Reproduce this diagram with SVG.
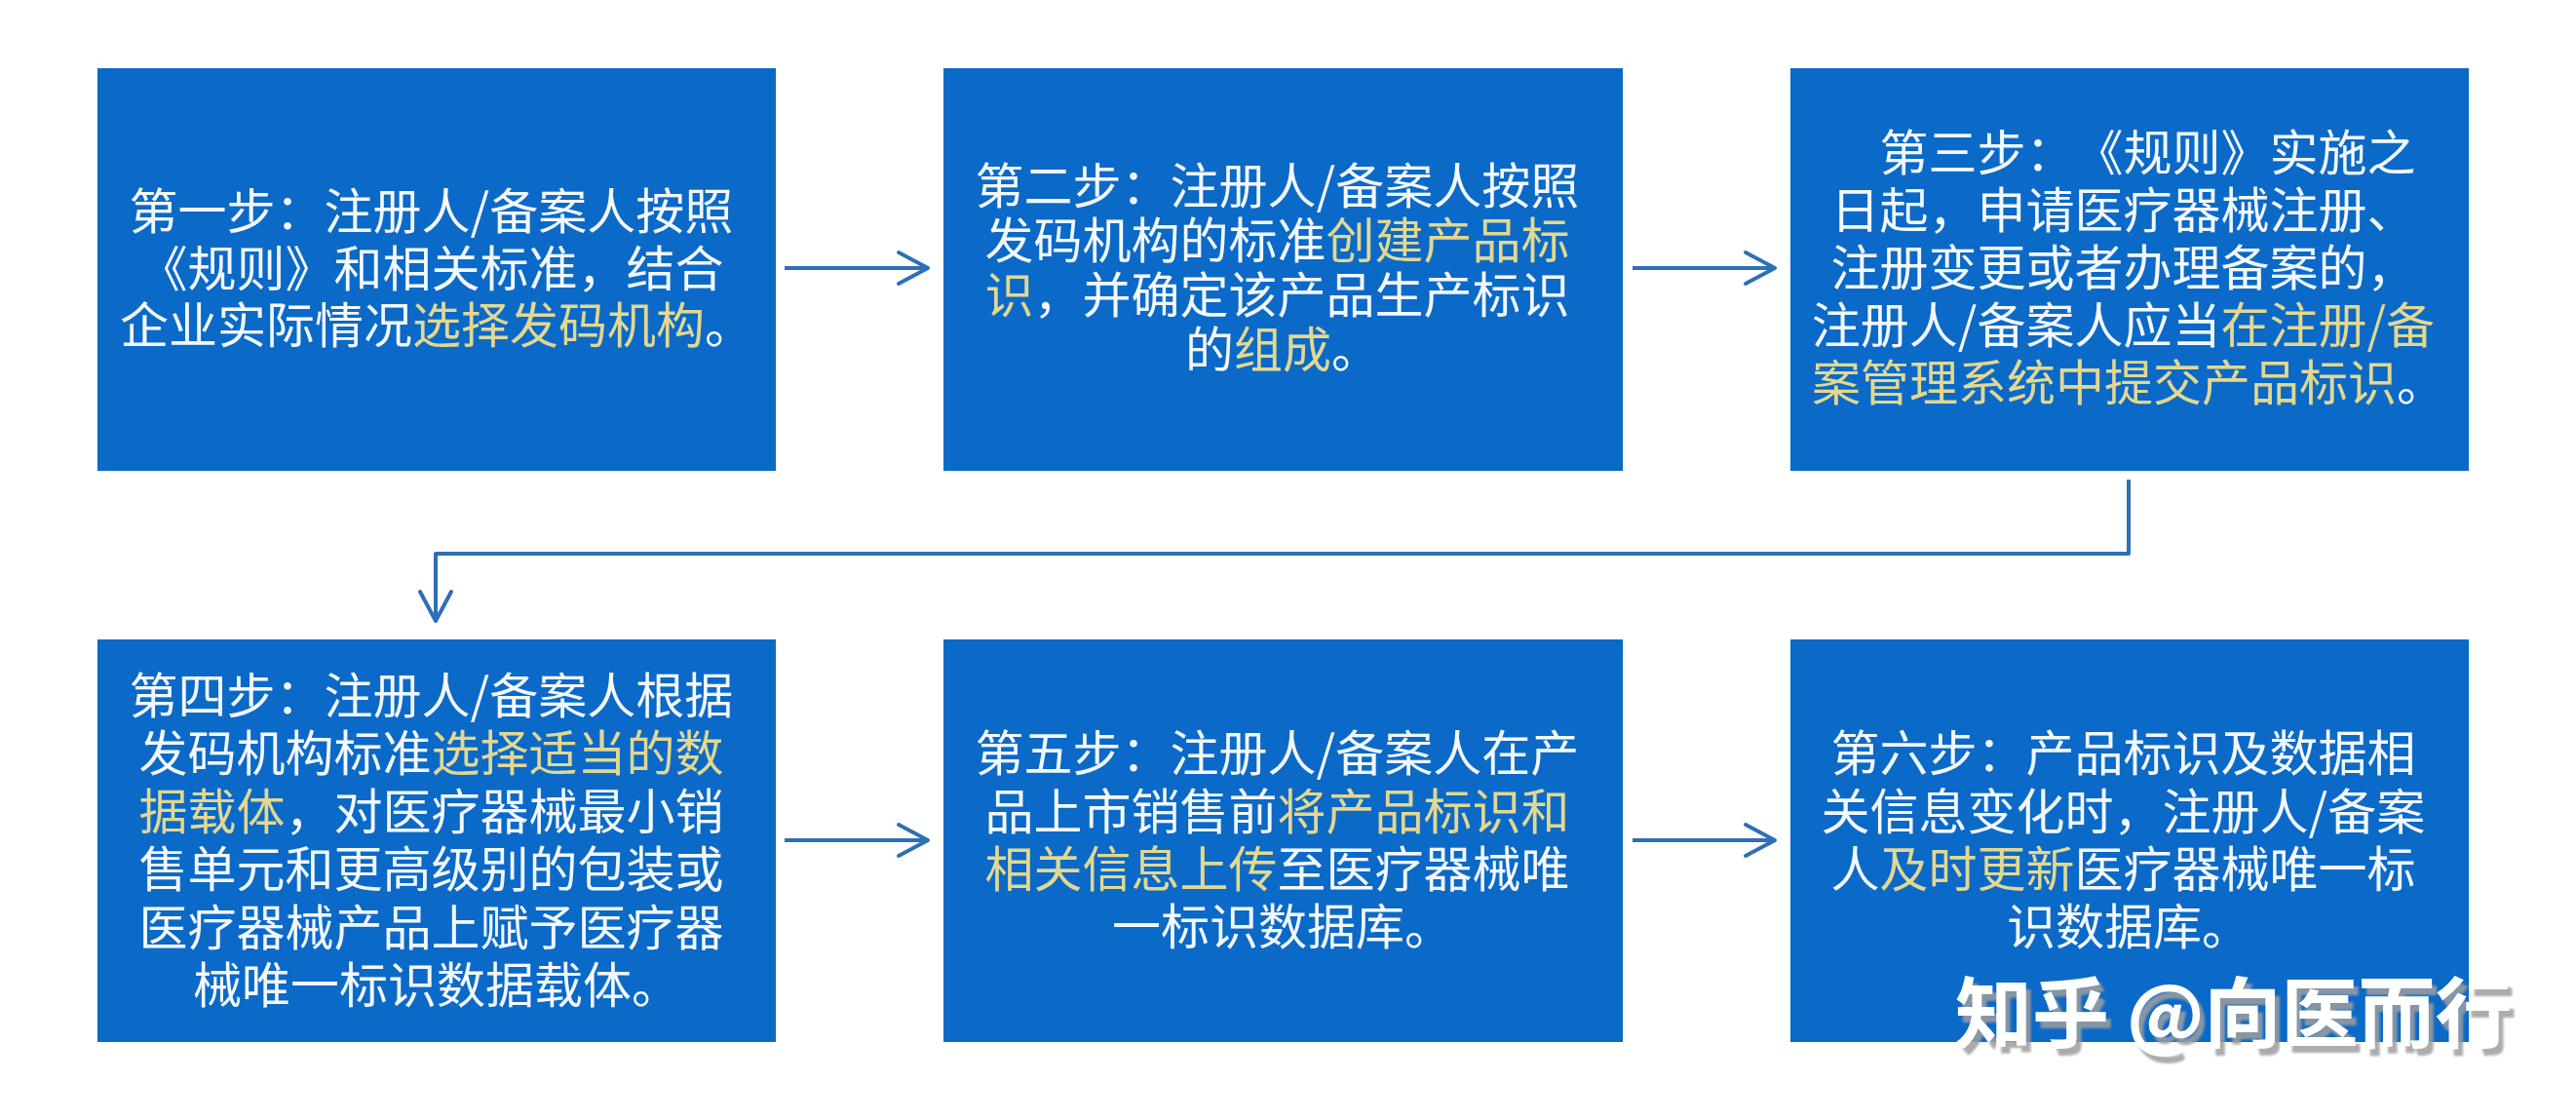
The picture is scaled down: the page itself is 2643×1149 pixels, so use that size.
<svg xmlns="http://www.w3.org/2000/svg" width="2643" height="1149" viewBox="0 0 2643 1149">
  <defs>
    <marker id="chev" markerUnits="userSpaceOnUse" markerWidth="40" markerHeight="40" viewBox="-34 -20 40 40" refX="0" refY="0" orient="auto">
      <path d="M -30 -16 L 0 0 L -30 16" fill="none" stroke="#2e6fb6" stroke-width="4" stroke-linecap="round" stroke-linejoin="round"/>
    </marker>
    <filter id="wmshadow" x="-5%" y="-20%" width="115%" height="150%">
      <feDropShadow dx="5" dy="7" stdDeviation="0.8" flood-color="#9e9e9e" flood-opacity="0.85"/>
    </filter>
  </defs>
  <style>
    .box { fill: #0b69c8; }
    .t { font-family: "Noto Sans CJK SC", "Noto Sans", sans-serif; font-size: 50px; fill: #f3f8ff; text-anchor: middle; text-spacing-trim: space-all; }
    .hl { fill: #e2d88f; }
    .conn { fill: none; stroke: #2e6fb6; stroke-width: 4; stroke-linejoin: round; }
    .wm { font-family: "Noto Sans CJK SC", "Noto Sans", sans-serif; font-size: 79px; font-weight: bold; fill: #ffffff; text-spacing-trim: space-all; }
  </style>
  <rect x="0" y="0" width="2643" height="1149" fill="#ffffff"/>

  <g id="connectors">
    <path class="conn" d="M 805 275 L 952 275" marker-end="url(#chev)"/>
    <path class="conn" d="M 1675 275 L 1821 275" marker-end="url(#chev)"/>
    <path class="conn" d="M 2184 492 L 2184 568 L 447 568 L 447 637" marker-end="url(#chev)"/>
    <path class="conn" d="M 805 862 L 952 862" marker-end="url(#chev)"/>
    <path class="conn" d="M 1675 862 L 1821 862" marker-end="url(#chev)"/>
  </g>

  <g id="step1">
    <rect class="box" x="100" y="70" width="696" height="413"/>
    <text class="t">
      <tspan x="448" y="235">第一步：注册人/备案人按照</tspan>
      <tspan x="448" y="293.5">《规则》和相关标准，结合</tspan>
      <tspan x="448" y="352">企业实际情况<tspan class="hl">选择发码机构</tspan>。</tspan>
    </text>
  </g>

  <g id="step2">
    <rect class="box" x="968" y="70" width="697" height="413"/>
    <text class="t">
      <tspan x="1316" y="209">第二步：注册人/备案人按照</tspan>
      <tspan x="1316" y="265">发码机构的标准<tspan class="hl">创建产品标</tspan></tspan>
      <tspan x="1316" y="321"><tspan class="hl">识</tspan>，并确定该产品生产标识</tspan>
      <tspan x="1316" y="377">的<tspan class="hl">组成</tspan>。</tspan>
    </text>
  </g>

  <g id="step3">
    <rect class="box" x="1837" y="70" width="696" height="413"/>
    <text class="t">
      <tspan x="2184" y="174.5">　第三步：《规则》实施之</tspan>
      <tspan x="2184" y="233.5">日起，申请医疗器械注册、</tspan>
      <tspan x="2184" y="292.5">注册变更或者办理备案的，</tspan>
      <tspan x="2184" y="351.5">注册人/备案人应当<tspan class="hl">在注册/备</tspan></tspan>
      <tspan x="2184" y="410.5"><tspan class="hl">案管理系统中提交产品标识</tspan>。</tspan>
    </text>
  </g>

  <g id="step4">
    <rect class="box" x="100" y="656" width="696" height="413"/>
    <text class="t">
      <tspan x="448" y="731.5">第四步：注册人/备案人根据</tspan>
      <tspan x="448" y="791">发码机构标准<tspan class="hl">选择适当的数</tspan></tspan>
      <tspan x="448" y="850.5"><tspan class="hl">据载体</tspan>，对医疗器械最小销</tspan>
      <tspan x="448" y="910">售单元和更高级别的包装或</tspan>
      <tspan x="448" y="969.5">医疗器械产品上赋予医疗器</tspan>
      <tspan x="448" y="1029">械唯一标识数据载体。</tspan>
    </text>
  </g>

  <g id="step5">
    <rect class="box" x="968" y="656" width="697" height="413"/>
    <text class="t">
      <tspan x="1316" y="790.5">第五步：注册人/备案人在产</tspan>
      <tspan x="1316" y="850.5">品上市销售前<tspan class="hl">将产品标识和</tspan></tspan>
      <tspan x="1316" y="909.5"><tspan class="hl">相关信息上传</tspan>至医疗器械唯</tspan>
      <tspan x="1316" y="968.5">一标识数据库。</tspan>
    </text>
  </g>

  <g id="step6">
    <rect class="box" x="1837" y="656" width="696" height="413"/>
    <text class="t">
      <tspan x="2184" y="790.5">第六步：产品标识及数据相</tspan>
      <tspan x="2184" y="850.5">关信息变化时，注册人/备案</tspan>
      <tspan x="2184" y="909.5">人<tspan class="hl">及时更新</tspan>医疗器械唯一标</tspan>
      <tspan x="2184" y="968.5">识数据库。</tspan>
    </text>
  </g>

  <g id="watermark">
    <text class="wm" x="2006" y="1069" filter="url(#wmshadow)">知乎 @向医而行</text>
  </g>
</svg>
